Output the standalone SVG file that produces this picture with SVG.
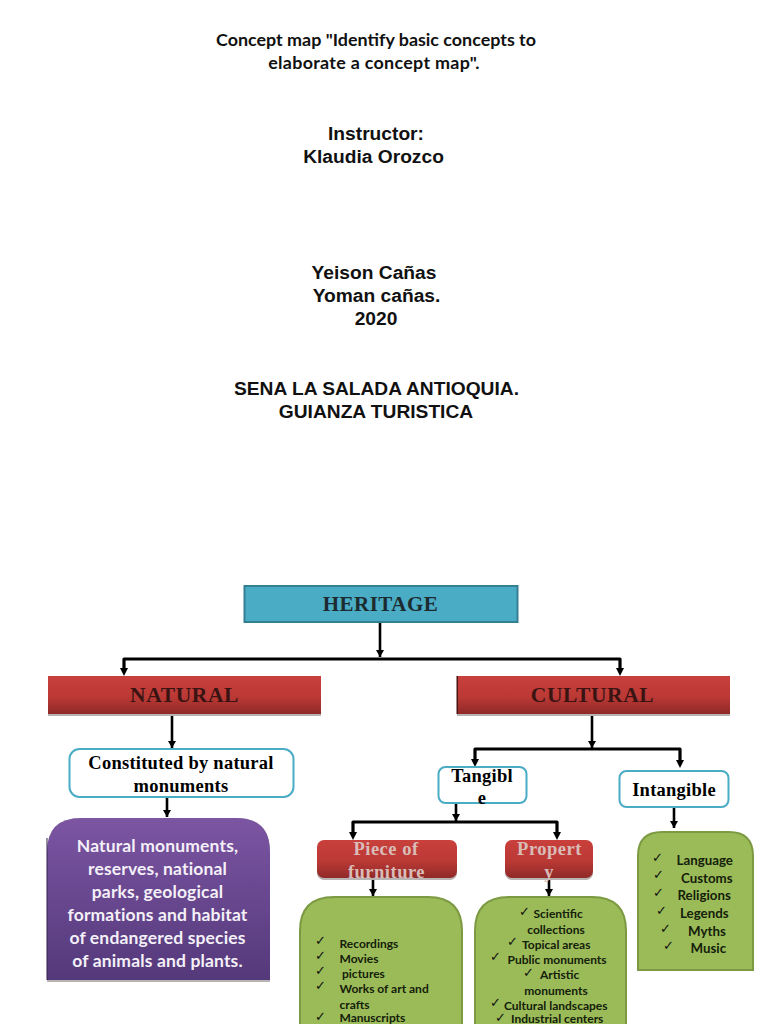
<svg xmlns="http://www.w3.org/2000/svg" width="768" height="1024" viewBox="0 0 768 1024">
<style>
.c{font-family:"Lato","Noto Sans",sans-serif;font-weight:700;fill:#111}
.a{font-family:"Liberation Sans",Arial,sans-serif;font-size:19.200px;font-weight:700;fill:#111;text-anchor:middle}
.s{font-family:"Liberation Serif","Times New Roman",serif;font-weight:700;text-anchor:middle}
.h{font-size:21px;letter-spacing:.5px}
.hh{font-size:21.500px;letter-spacing:.6px}
.b{font-size:18.500px;letter-spacing:.25px;fill:#000}
.r{font-size:18.500px;letter-spacing:.5px;fill:#d9bcb8}
.m{text-anchor:middle}
.l{font-family:"Lato","Noto Sans",sans-serif;font-weight:700;font-size:12px;fill:#14200a}
.n{font-size:13.300px}
.k{font-family:"DejaVu Sans",sans-serif;font-size:13px;fill:#111}
.w{font-family:"Lato","Noto Sans",sans-serif;font-weight:700;font-size:17.500px;letter-spacing:.15px;fill:#f4f0f8;text-anchor:middle}
.g{fill:#9bbb59;stroke:#7b9a42;stroke-width:2}
.o{fill:#fff;stroke:#4bacc6;stroke-width:2}
.e{fill:none;stroke:#000;stroke-width:2.600px;stroke-linejoin:round}
.t{fill:none;stroke:#000;stroke-width:3.200px;stroke-linejoin:round}
.sh{fill:#b9b4b4}
</style>
<defs>
<linearGradient id="red" x1="0" y1="0" x2="0" y2="1"><stop offset="0" stop-color="#c9403c"/><stop offset="0.55" stop-color="#bb3935"/><stop offset="1" stop-color="#8f2a28"/></linearGradient>
<linearGradient id="pur" x1="0" y1="0" x2="0" y2="1"><stop offset="0" stop-color="#7c55a3"/><stop offset="1" stop-color="#54397a"/></linearGradient>
<marker id="ah" markerUnits="userSpaceOnUse" markerWidth="8" markerHeight="9" refX="7" refY="4.500" orient="auto"><path d="M0 0.500L7 4.500L0 8.500Z" fill="#000"/></marker>
</defs>

<g id="title">
<text class="c m" font-size="17.900" x="376" y="46">Concept map "Identify basic concepts to</text>
<text class="c m" font-size="17.900" x="374" y="69" letter-spacing=".3">elaborate a concept map".</text>
<text class="a" x="376" y="140">Instructor:</text>
<text class="a" x="373.500" y="163">Klaudia Orozco</text>
<text class="a" x="374" y="279">Yeison Cañas</text>
<text class="a" x="376.500" y="302">Yoman cañas.</text>
<text class="a" x="376" y="325">2020</text>
<text class="a" x="376.500" y="395">SENA LA SALADA ANTIOQUIA.</text>
<text class="a" x="376" y="418">GUIANZA TURISTICA</text>
</g>

<g id="connectors">
<path class="e" d="M380 622V657" marker-end="url(#ah)"/>
<path class="t" d="M124 670V659H620V670"/>
<path d="M120 668L128 668L124 676Z M616 668L624 668L620 676Z" fill="#000"/>
<path class="e" d="M172 713V748" marker-end="url(#ah)"/>
<path class="e" d="M167 798V817" marker-end="url(#ah)"/>
<path class="e" d="M592 713V748" marker-end="url(#ah)"/>
<path class="t" d="M475 760V749H680V761"/>
<path d="M471 759L479 759L475 767Z M676 760L684 760L680 768Z" fill="#000"/>
<path class="e" d="M456 803V821" marker-end="url(#ah)"/>
<path class="t" d="M353 833V822H557V833"/>
<path d="M349 832L357 832L353 840Z M553 832L561 832L557 840Z" fill="#000"/>
<path class="e" d="M373 878V896" marker-end="url(#ah)"/>
<path class="e" d="M549 880V896" marker-end="url(#ah)"/>
<path class="e" d="M674 808V828" marker-end="url(#ah)"/>
</g>

<g id="heritage">
<rect x="244.500" y="586" width="273" height="36" fill="#4bacc6" stroke="#357f93" stroke-width="2"/>
<text class="s h" fill="#1c2b30" x="380.500" y="611">HERITAGE</text>
</g>

<g id="natural">
<rect class="sh" x="48" y="678" width="273" height="38"/>
<rect x="48" y="676" width="273" height="38" fill="url(#red)"/>
<text class="s hh" fill="#3a1412" x="184.500" y="702">NATURAL</text>
</g>

<g id="cultural">
<rect class="sh" x="457" y="678" width="273" height="38"/>
<rect x="457" y="676" width="273" height="38" fill="url(#red)"/>
<rect x="456.500" y="676" width="1.500" height="38" fill="#4a1513"/>
<text class="s hh" fill="#3a1412" x="592.500" y="702">CULTURAL</text>
</g>

<g id="constituted">
<rect class="o" x="69.500" y="749" width="224" height="48" rx="10"/>
<text class="s b" x="181" y="769">Constituted by natural</text>
<text class="s b" x="181" y="792">monuments</text>
</g>

<g id="natural-list">
<path d="M47 982V852Q47 818 81 818H236Q270 818 270 852V982Z" fill="#b9b4b4"/>
<path d="M47 980V852Q47 818 81 818H236Q270 818 270 852V980Z" fill="url(#pur)"/>
<path d="M47 980V838" fill="none" stroke="#33214d" stroke-width="1"/>
<text class="w" x="157.500" y="852">Natural monuments,</text>
<text class="w" x="157.500" y="875">reserves, national</text>
<text class="w" x="157.500" y="898">parks, geological</text>
<text class="w" x="157.500" y="921">formations and habitat</text>
<text class="w" x="157.500" y="944">of endangered species</text>
<text class="w" x="157.500" y="967">of animals and plants.</text>
</g>

<g id="tangible">
<rect class="o" x="438.500" y="767" width="88" height="36" rx="7"/>
<text class="s b" x="482" y="782">Tangibl</text>
<text class="s b" x="482" y="804">e</text>
</g>

<g id="intangible">
<rect class="o" x="619.500" y="771" width="109" height="36" rx="7"/>
<text class="s b" x="674" y="796">Intangible</text>
</g>

<g id="furniture">
<rect class="sh" x="317" y="842" width="140" height="38" rx="7"/>
<rect x="317" y="840" width="140" height="38" rx="7" fill="url(#red)"/>
<text class="s r" x="386" y="855">Piece of</text>
<text class="s r" x="386.500" y="878">furniture</text>
</g>

<g id="property">
<rect class="sh" x="505" y="842" width="88" height="38" rx="7"/>
<rect x="505" y="840" width="88" height="38" rx="7" fill="url(#red)"/>
<text class="s r" x="549.500" y="855">Propert</text>
<text class="s r" x="549" y="878">y</text>
</g>

<g id="furniture-list">
<path class="g" d="M300 1030V931Q300 897 334 897H428Q462 897 462 931V1030Z"/>
<text class="k" x="315" y="945">✓</text><text class="l" x="339.500" y="948">Recordings</text>
<text class="k" x="315" y="960">✓</text><text class="l" x="339.500" y="963">Movies</text>
<text class="k" x="315" y="975">✓</text><text class="l" x="342" y="978">pictures</text>
<text class="k" x="315" y="990">✓</text><text class="l" x="339.500" y="993">Works of art and</text>
<text class="l" x="339.500" y="1009">crafts</text>
<text class="k" x="315" y="1021">✓</text><text class="l" x="339.500" y="1022">Manuscripts</text>
</g>

<g id="property-list">
<path class="g" d="M475 1030V931Q475 897 509 897H592Q626 897 626 931V1030Z"/>
<text class="k" x="519" y="916">✓</text><text class="l" x="533.500" y="918">Scientific</text>
<text class="l m" x="556" y="934">collections</text>
<text class="k" x="507" y="946">✓</text><text class="l" x="522" y="949">Topical areas</text>
<text class="k" x="490" y="961">✓</text><text class="l" x="507.500" y="964">Public monuments</text>
<text class="k" x="523" y="977">✓</text><text class="l" x="540" y="979">Artistic</text>
<text class="l m" x="556" y="995">monuments</text>
<text class="k" x="490" y="1007">✓</text><text class="l" x="504" y="1010">Cultural landscapes</text>
<text class="k" x="495" y="1022">✓</text><text class="l" x="511" y="1023">Industrial centers</text>
</g>

<g id="intangible-list">
<path class="g" d="M638 970V856Q638 832 662 832H729Q753 832 753 856V970Z"/>
<text class="k" x="652" y="862">✓</text><text class="l n" x="676.500" y="865">Language</text>
<text class="k" x="653" y="879">✓</text><text class="l n" x="681" y="883">Customs</text>
<text class="k" x="653" y="897">✓</text><text class="l n" x="677.500" y="900">Religions</text>
<text class="k" x="656" y="915">✓</text><text class="l n" x="680" y="918">Legends</text>
<text class="k" x="660" y="933">✓</text><text class="l n" x="688" y="936">Myths</text>
<text class="k" x="663" y="950">✓</text><text class="l n" x="690.500" y="953">Music</text>
</g>
</svg>
